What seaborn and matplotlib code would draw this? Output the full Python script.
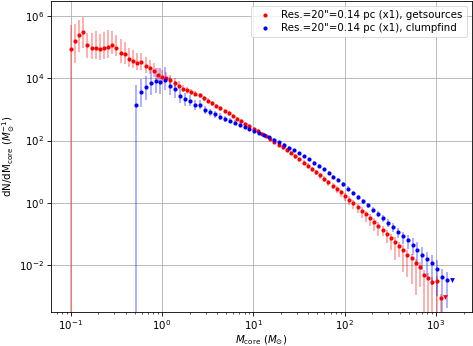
import numpy as np
import pandas as pd
import seaborn as sns
import matplotlib.pyplot as plt

# ---- data ----
# getsources: log10 bin centre masses (Msun) and log10 dN/dM
red_logm = [-1.000, -0.954, -0.909, -0.863, -0.818, -0.772, -0.727, -0.681, -0.636, -0.590,
            -0.545, -0.499, -0.454, -0.408, -0.363, -0.317, -0.272, -0.226, -0.181, -0.135,
            -0.090, -0.044, 0.001, 0.047, 0.092, 0.138, 0.184, 0.229, 0.275, 0.320,
            0.366, 0.411, 0.457, 0.502, 0.548, 0.593, 0.639, 0.684, 0.730, 0.775,
            0.821, 0.866, 0.912, 0.957, 1.003, 1.048, 1.094, 1.139, 1.185, 1.230,
            1.276, 1.322, 1.367, 1.413, 1.458, 1.504, 1.549, 1.595, 1.640, 1.686,
            1.731, 1.777, 1.822, 1.868, 1.913, 1.959, 2.004, 2.050, 2.095, 2.141,
            2.186, 2.232, 2.277, 2.323, 2.368, 2.414, 2.460, 2.505, 2.551, 2.596,
            2.642, 2.687, 2.733, 2.778, 2.824, 2.869, 2.915, 2.960, 3.006, 3.051,
            3.097]
red_logy = [4.95, 5.20, 5.39, 5.49, 5.07, 4.97, 4.97, 4.94, 4.98, 5.00,
            5.06, 4.98, 4.81, 4.77, 4.63, 4.57, 4.51, 4.53, 4.40, 4.33,
            4.25, 4.10, 4.06, 4.02, 3.96, 3.85, 3.77, 3.67, 3.61, 3.57,
            3.51, 3.45, 3.36, 3.28, 3.20, 3.12, 3.04, 2.96, 2.87, 2.79,
            2.70, 2.62, 2.54, 2.46, 2.37, 2.30, 2.22, 2.135, 2.05, 1.96,
            1.87, 1.78, 1.685, 1.59, 1.49, 1.39, 1.29, 1.19, 1.085, 0.98,
            0.875, 0.77, 0.66, 0.55, 0.44, 0.33, 0.21, 0.10, -0.02, -0.14,
            -0.26, -0.38, -0.50, -0.62, -0.75, -0.88, -1.01, -1.14, -1.26, -1.38,
            -1.54, -1.67, -1.78, -1.95, -2.06, -2.34, -2.41, -2.55, -2.51, -3.07,
            -3.04]
# error bar extents in dex above / below the point (inf = down to zero)
inf = np.inf
red_dhi = [0.78, 0.55, 0.50, 0.50, 0.40, 0.50, 0.55, 0.50, 0.50, 0.55,
           0.45, 0.40, 0.45, 0.40, 0.35, 0.35, 0.32, 0.30, 0.28, 0.27,
           0.25, 0.22, 0.20, 0.18, 0.16, 0.15, 0.13, 0.12, 0.11, 0.10,
           0.09, 0.09, 0.08, 0.08, 0.08, 0.07, 0.07, 0.07, 0.07, 0.07,
           0.06, 0.06, 0.06, 0.06, 0.06, 0.06, 0.06, 0.06, 0.06, 0.06,
           0.06, 0.06, 0.06, 0.06, 0.06, 0.06, 0.07, 0.07, 0.07, 0.07,
           0.07, 0.08, 0.08, 0.08, 0.09, 0.09, 0.10, 0.10, 0.11, 0.11,
           0.12, 0.12, 0.12, 0.13, 0.13, 0.13, 0.14, 0.13, 0.16, 0.12,
           0.17, 0.16, 0.14, 0.15, 0.15, 0.16, 0.15, 0.15, 0.15, 0.14,
           0.0]
red_dlo = [inf, 0.70, 0.55, 0.50, 0.40, 0.35, 0.35, 0.35, 0.35, 0.35,
           0.28, 0.25, 0.30, 0.30, 0.28, 0.25, 0.25, 0.25, 0.22, 0.20,
           0.20, 0.18, 0.17, 0.15, 0.14, 0.13, 0.12, 0.11, 0.10, 0.10,
           0.09, 0.09, 0.09, 0.08, 0.08, 0.08, 0.08, 0.08, 0.08, 0.08,
           0.07, 0.07, 0.07, 0.07, 0.07, 0.07, 0.07, 0.07, 0.07, 0.07,
           0.07, 0.07, 0.07, 0.07, 0.08, 0.08, 0.08, 0.09, 0.09, 0.10,
           0.10, 0.11, 0.12, 0.12, 0.13, 0.14, 0.15, 0.16, 0.18, 0.20,
           0.22, 0.24, 0.26, 0.30, 0.32, 0.19, 0.29, 0.38, 0.59, 0.36,
           0.69, 0.72, 0.83, 1.03, 0.65, inf, inf, inf, inf, inf,
           0.0]

# clumpfind
blue_logm = [-0.288, -0.234, -0.180, -0.126, -0.071, -0.017, 0.037, 0.091, 0.145, 0.199,
             0.253, 0.307, 0.362, 0.416, 0.470, 0.524, 0.578, 0.632, 0.686, 0.740,
             0.795, 0.849, 0.903, 0.957, 1.011, 1.065, 1.119, 1.173, 1.228, 1.282,
             1.336, 1.390, 1.444, 1.498, 1.552, 1.606, 1.660, 1.715, 1.769, 1.823,
             1.877, 1.931, 1.985, 2.039, 2.093, 2.147, 2.202, 2.256, 2.310, 2.364,
             2.418, 2.472, 2.526, 2.581, 2.635, 2.689, 2.743, 2.797, 2.851, 2.905,
             2.959, 3.014, 3.068, 3.122, 3.176]
blue_logy = [3.13, 3.57, 3.71, 3.85, 3.91, 3.89, 3.96, 3.76, 3.65, 3.43,
             3.32, 3.28, 3.15, 3.15, 2.99, 2.91, 2.84, 2.77, 2.70, 2.64,
             2.57, 2.51, 2.44, 2.37, 2.30, 2.24, 2.17, 2.10, 2.02, 1.94,
             1.86, 1.77, 1.68, 1.59, 1.49, 1.39, 1.29, 1.18, 1.07, 0.96,
             0.84, 0.72, 0.59, 0.45, 0.31, 0.17, 0.04, -0.08, -0.23, -0.35,
             -0.50, -0.65, -0.78, -0.95, -1.08, -1.21, -1.36, -1.51, -1.67, -1.82,
             -1.94, -2.12, -2.40, -2.48, -2.48]
blue_dhi = [0.66, 0.42, 0.38, 0.38, 0.42, 0.45, 0.40, 0.30, 0.28, 0.22,
            0.20, 0.18, 0.16, 0.15, 0.13, 0.12, 0.11, 0.10, 0.09, 0.08,
            0.08, 0.07, 0.07, 0.07, 0.06, 0.06, 0.06, 0.06, 0.06, 0.06,
            0.05, 0.05, 0.05, 0.05, 0.05, 0.05, 0.06, 0.06, 0.06, 0.06,
            0.06, 0.06, 0.07, 0.07, 0.07, 0.07, 0.08, 0.08, 0.08, 0.09,
            0.09, 0.11, 0.12, 0.14, 0.15, 0.18, 0.21, 0.23, 0.25, 0.24,
            0.25, 0.27, 0.27, 0.25, 0.0]
blue_dlo = [inf, 0.50, 0.42, 0.38, 0.38, 0.40, 0.35, 0.30, 0.28, 0.22,
            0.20, 0.18, 0.16, 0.15, 0.13, 0.12, 0.11, 0.10, 0.09, 0.08,
            0.08, 0.07, 0.07, 0.07, 0.06, 0.06, 0.06, 0.06, 0.06, 0.06,
            0.05, 0.05, 0.05, 0.05, 0.05, 0.05, 0.06, 0.06, 0.06, 0.07,
            0.07, 0.07, 0.08, 0.08, 0.08, 0.09, 0.09, 0.10, 0.10, 0.11,
            0.11, 0.14, 0.17, 0.18, 0.25, 0.27, 0.32, 0.39, 0.50, 0.57,
            0.72, 0.90, inf, 0.90, 0.0]

labels = ['Res.=20"=0.14 pc (x1), getsources', 'Res.=20"=0.14 pc (x1), clumpfind']
colors = ['red', 'blue']
xticks = [1e-1, 1e0, 1e1, 1e2, 1e3]
yticks = [1e-2, 1e0, 1e2, 1e4, 1e6]

fig = plt.figure(figsize=(4.73, 3.46), dpi=100)
ax = fig.add_axes([51 / 473, 1 - 311.7 / 346, 421 / 473, 311.7 / 346 - 0.002])
ax.set_xscale('log')
ax.set_yscale('log')

sets = [(red_logm, red_logy, red_dhi, red_dlo), (blue_logm, blue_logy, blue_dhi, blue_dlo)]
for (lm, ly, dhi, dlo), lab, col in zip(sets, labels, colors):
    m = 10 ** np.array(lm)
    y = 10 ** np.array(ly)
    lo = y - y * 10 ** (-np.array(dlo))
    hi = y * 10 ** np.array(dhi) - y
    ax.errorbar(m, y, yerr=[lo, hi], fmt='none', ecolor=col, alpha=0.4,
                elinewidth=1.1, zorder=2)
    df = pd.DataFrame({'M': m, 'dNdM': y, 'set': lab})
    # last bin is an upper limit, drawn as a down triangle
    sns.scatterplot(data=df.iloc[:-1], x='M', y='dNdM', color=col, marker='o',
                    s=9, linewidth=0, ax=ax, label=lab, zorder=3)
    sns.scatterplot(data=df.iloc[-1:], x='M', y='dNdM', color=col, marker='v',
                    s=12, linewidth=0, ax=ax, legend=False, zorder=3)

ax.set_xlim(10 ** -1.216, 10 ** 3.394)
ax.set_ylim(10 ** -3.51, 10 ** 6.5)
ax.set_xticks(xticks)
ax.set_yticks(yticks)
ax.grid(True, which='major', color='#b0b0b0', linewidth=0.6)
ax.set_axisbelow(True)
for s in ax.spines.values():
    s.set_linewidth(0.6)
ax.tick_params(labelsize=7.4, width=0.6, length=2.6, pad=2.2)
ax.tick_params(which='minor', width=0.45, length=1.5)
ax.tick_params(axis='y', which='minor', left=False)
ax.set_xlabel(r'$M_{\rm core}$ ($M_{\odot}$)', fontsize=7.4, labelpad=1)
ax.set_ylabel(r'dN/dM$_{\rm core}$ ($M_{\odot}^{-1}$)', fontsize=7.4, labelpad=1.5)

leg = ax.legend(loc='upper right', fontsize=7.4, markerscale=1.0, handletextpad=0.6,
                borderpad=0.4, labelspacing=0.3)
leg.get_frame().set_linewidth(0.6)

fig.savefig('out.png', dpi=100)
